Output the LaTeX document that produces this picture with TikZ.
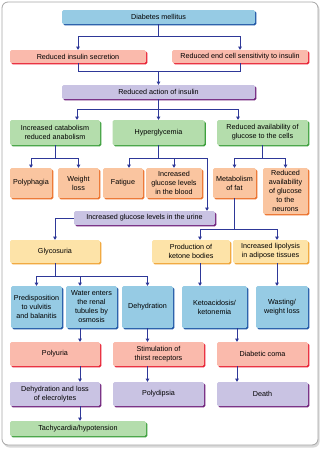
\documentclass[tikz,border=0pt]{standalone}
\usepackage{fontspec}
\setmainfont{Liberation Sans}
\usepackage{tikz}
\usetikzlibrary{positioning,shadows,arrows.meta}

\definecolor{blueF}{RGB}{150,203,228}
\definecolor{blueD}{RGB}{30,85,165}
\definecolor{redF}{RGB}{250,186,172}
\definecolor{redD}{RGB}{232,32,52}
\definecolor{lavF}{RGB}{201,195,227}
\definecolor{lavD}{RGB}{112,32,122}
\definecolor{greenF}{RGB}{180,221,172}
\definecolor{greenD}{RGB}{62,160,62}
\definecolor{orangeF}{RGB}{250,197,160}
\definecolor{orangeD}{RGB}{236,112,42}
\definecolor{yellowF}{RGB}{253,227,168}
\definecolor{yellowD}{RGB}{240,162,52}
\definecolor{lineC}{RGB}{46,56,152}

\begin{document}
\begin{tikzpicture}[x=1pt, y=-1pt,
        box/.style={rounded corners=1.5pt, inner sep=0pt, align=center, font=\fontsize{7.2}{9}\selectfont},
        sz/.style 2 args={minimum width=#1pt, minimum height=#2pt},
        bluebox/.style={box, fill=blueF, general shadow={fill=blueD, shadow xshift=1.3pt, shadow yshift=-1.3pt}},
        redbox/.style={box, fill=redF, general shadow={fill=redD, shadow xshift=1.3pt, shadow yshift=-1.3pt}},
        lavbox/.style={box, fill=lavF, general shadow={fill=lavD, shadow xshift=1.3pt, shadow yshift=-1.3pt}},
        greenbox/.style={box, fill=greenF, general shadow={fill=greenD, shadow xshift=1.3pt, shadow yshift=-1.3pt}},
        orangebox/.style={box, fill=orangeF, general shadow={fill=orangeD, shadow xshift=1.3pt, shadow yshift=-1.3pt}},
        yellowbox/.style={box, fill=yellowF, general shadow={fill=yellowD, shadow xshift=1.3pt, shadow yshift=-1.3pt}},
        link/.style={draw=lineC, line width=0.8pt},
        arrow/.style={link, -{Triangle[width=3.6pt,length=3.2pt]}}
    ]
        \useasboundingbox (0,0) rectangle (322,450);
        \fill[black!15, rounded corners=6pt] (3.5,3.5) rectangle (319.5,447.5);
        \draw[black!35, fill=white, line width=0.8pt, rounded corners=6pt] (2,2) rectangle (318,445);

        \coordinate (colA) at (80,0);
        \coordinate (colB) at (147.5,0);
        \coordinate (colC) at (237,0);
        \coordinate (colD) at (200,0);
        \coordinate (colE) at (277,0);

        \node[bluebox, sz={193}{14}]    (dm)     at (158.5,17)  {Diabetes mellitus};
        \node[redbox, sz={136}{13}]     (secr)   at (78,56.5)   {Reduced insulin secretion};
        \node[redbox, sz={136}{13}]     (sens)   at (240,56.5)  {Reduced end cell sensitivity to insulin};
        \node[lavbox, sz={193}{14}]     (act)    at (158.5,92)  {Reduced action of insulin};

        \node[greenbox, sz={90}{25}]    (cat)    at (55,132.5)    {Increased catabolism\\reduced anabolism};
        \node[greenbox, sz={92}{25}]    (hyp)    at (158.5,132.5) {Hyperglycemia};
        \node[greenbox, sz={91}{25}]    (avail)  at (262.5,132.5) {Reduced availability of\\glucose to the cells};

        \node[orangebox, sz={42}{30}]   (poly)   at (31,183)    {Polyphagia};
        \node[orangebox, sz={41}{30}]   (wl)     at (78.5,183)  {Weight\\loss};
        \node[orangebox, sz={40}{30}]   (fat)    at (123,183)   {Fatigue};
        \node[orangebox, sz={56}{30}]   (blood)  at (174,183)   {Increased\\glucose levels\\in the blood};
        \node[orangebox, sz={43}{30}]   (mfat)   at (234.5,183) {Metabolism\\of fat};
        \node[orangebox, sz={45}{46}]   (neur)   at (285.5,191) {Reduced\\availability\\of glucose\\to the\\neurons};

        \node[lavbox, sz={141}{14}]     (urine)  at (144.5,218) {Increased glucose levels in the urine};

        \node[yellowbox, sz={90}{23}]   (glyc)   at (55,251.5)    {Glycosuria};
        \node[yellowbox, sz={78}{23}]   (prod)   at (191,251.5)   {Production of\\ketone bodies};
        \node[yellowbox, sz={75}{23}]   (lipo)   at (270.5,251.5) {Increased lipolysis\\in adipose tissues};

        \node[bluebox, sz={51}{42}]     (pred)   at (36.5,307)  {Predisposition\\to vulvitis\\and balanitis};
        \node[bluebox, sz={51}{42}]     (water)  at (91.5,307)  {Water enters\\the renal\\tubules by\\osmosis};
        \node[bluebox, sz={51}{42}]     (dehyd)  at (147.5,307) {Dehydration};
        \node[bluebox, sz={65}{42}]     (ketoa)  at (214.5,307) {Ketoacidosis/\\ketonemia};
        \node[bluebox, sz={52}{42}]     (wast)   at (282,307)   {Wasting/\\weight loss};

        \node[redbox, sz={90}{24}]      (polyu)  at (55,354)    {Polyuria};
        \node[redbox, sz={91}{24}]      (thirst) at (158.5,354) {Stimulation of\\thirst receptors};
        \node[redbox, sz={91}{24}]      (coma)   at (262.5,354) {Diabetic coma};

        \node[lavbox, sz={90}{24}]      (dhl)    at (55,394)    {Dehydration and loss\\of elecrolytes};
        \node[lavbox, sz={91}{24}]      (polyd)  at (158.5,394) {Polydipsia};
        \node[lavbox, sz={91}{24}]      (death)  at (262.5,394) {Death};

        \node[greenbox, sz={136}{15}]   (tachy)  at (78,428.5)  {Tachycardia/hypotension};

        \draw[arrow] (dm.south) -- ++(0,12) -| (secr);
        \draw[arrow] (dm.south) ++(0,12) -| (sens);
        \draw[link] (secr.south) |- ([yshift=13pt]act.north) -| (sens.south);
        \draw[arrow] ([yshift=13pt]act.north) -- (act);

        \draw[arrow] (act) -- (hyp);
        \draw[arrow] ([yshift=-10pt]act.south) -| ([xshift=22pt]cat.north);
        \draw[arrow] ([yshift=-10pt]act.south) -| ([xshift=-24.5pt]avail.north);

        \draw[arrow] (cat.south) -- ++(0,13) -| (poly);
        \draw[arrow] (cat.south) ++(0,13) -| (wl);
        \draw[arrow] (hyp.south) -- ++(0,13) -| ([xshift=6pt]fat.north);
        \draw[arrow] (hyp.south) ++(0,13) -| (blood);
        \draw[arrow] (hyp.south) ++(0,13) -| ([xshift=62.5pt]urine.north);
        \draw[arrow] (avail.south) -- ++(0,13) -| (mfat);
        \draw[arrow] (avail.south) ++(0,13) -| (neur);

        \draw[arrow] (urine.west) -| (glyc);
        \draw[arrow] (mfat.south) -- ++(0,31) -| (prod.north -| colD);
        \draw[arrow] (mfat.south) ++(0,31) -| (lipo.north -| colE);

        \draw[arrow] (glyc.south) -- ++(0,13) -| (pred);
        \draw[arrow] (glyc.south) ++(0,13) -| (water.north -| colA);
        \draw[arrow] (glyc.south) ++(0,13) -| (dehyd);
        \draw[arrow] (prod.south -| colD) -- (ketoa.north -| colD);
        \draw[arrow] (lipo.south -| colE) -- (wast.north -| colE);

        \draw[arrow] (water.south -| colA) -- (polyu.north -| colA);
        \draw[arrow] (dehyd.south -| colB) -- (thirst.north -| colB);
        \draw[arrow] (ketoa.south -| colC) -- (coma.north -| colC);
        \draw[arrow] (polyu.south -| colA) -- (dhl.north -| colA);
        \draw[arrow] (thirst.south -| colB) -- (polyd.north -| colB);
        \draw[arrow] (coma.south -| colC) -- (death.north -| colC);
        \draw[arrow] (dhl.south -| colA) -- (tachy.north -| colA);
    \end{tikzpicture}
\end{document}
